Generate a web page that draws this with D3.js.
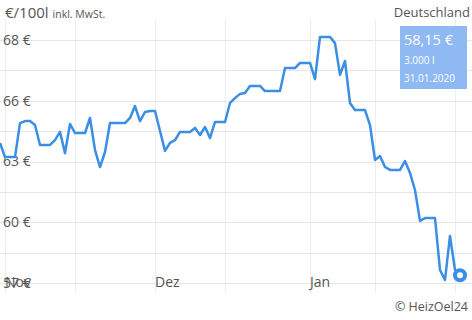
<!DOCTYPE html>
<html>
<head>
<meta charset="utf-8">
<script src="https://cdn.jsdelivr.net/npm/d3@7"></script>
<style>
	body { margin: 0; background: #fff; }
	text { font-family: "Open Sans", "DejaVu Sans", sans-serif; }
</style>
</head>
<body>
<div id="mainWrapper"><svg width="472" height="320"></svg></div>
<script>

	// Heizölpreis pro 100 l, täglich ab 31.10.2019
	var startDay = "2019-10-31";
	var prices = [
		64.14, 63.50, 63.50, 63.50, 65.04, 65.13, 65.13, 64.95, 64.05, 64.05,
		64.05, 64.27, 64.64, 63.68, 65.00, 64.59, 64.59, 64.59, 65.27, 63.82,
		63.05, 63.73, 65.04, 65.04, 65.04, 65.04, 65.27, 65.81, 65.13, 65.54,
		65.59, 65.59, 64.68, 63.78, 64.14, 64.27, 64.64, 64.64, 64.64, 64.82,
		64.50, 64.86, 64.36, 65.09, 65.09, 65.09, 65.95, 66.17, 66.36, 66.40,
		66.72, 66.72, 66.72, 66.49, 66.49, 66.49, 66.49, 67.53, 67.53, 67.53,
		67.76, 67.76, 67.76, 67.03, 68.94, 68.94, 68.94, 68.66, 67.22, 67.85,
		65.95, 65.63, 65.63, 65.63, 64.95, 63.37, 63.55, 63.05, 62.92, 62.92,
		62.92, 63.32, 62.78, 62.01, 60.61, 60.74, 60.74, 60.74, 58.39, 57.94,
		59.93, 58.39, 58.15
	];

	// Achsen
	var yTicks = [57.8, 59.175, 60.55, 61.925, 63.3, 64.675, 66.05, 67.425, 68.8];
	var yLabelTicks = [57.8, 60.55, 63.3, 66.05, 68.8];
	var monthTicks = ["2019-11-01", "2019-12-01", "2020-01-01"];
	var monthLabels = ["Nov", "Dez", "Jan"];
	var midTicks = ["2019-11-15", "2019-12-15", "2020-01-14", "2020-01-30"];
	var amount = 3000;
	var region = "Deutschland";

	var parse = d3.utcParse("%Y-%m-%d");
	var start = parse(startDay);
	var data = prices.map(function(p, i){
		return { date: d3.utcDay.offset(start, i), price: p };
	});

	var svg = d3.select("#mainWrapper>svg");

	var x = d3.scaleUtc()
		.domain([parse("2019-11-01"), parse("2020-01-31")])
		.range([5, 460]);

	var y = d3.scaleLinear()
		.domain([57.8, 68.8])
		.range([283, 40]);

	var de = d3.formatLocale({ decimal: ",", thousands: ".", grouping: [3], currency: ["", " €"] });

	//Gitter
	var grid = svg.append("g").attr("class", "grid");

	grid.selectAll(".vline")
		.data(monthTicks.concat(midTicks).map(parse))
		.enter()
		.append("line")
		.attr("x1", function(d){ return x(d) + 0.5; })
		.attr("x2", function(d){ return x(d) + 0.5; })
		.attr("y1", 20)
		.attr("y2", 293)
		.attr("stroke", "#ededed")
		.attr("stroke-width", 1);

	grid.selectAll(".hline")
		.data(yTicks)
		.enter()
		.append("line")
		.attr("x1", 0)
		.attr("x2", 472)
		.attr("y1", function(d){ return Math.round(y(d)) + 0.5; })
		.attr("y2", function(d){ return Math.round(y(d)) + 0.5; })
		.attr("stroke", "#e6e6e6")
		.attr("stroke-width", 1);

	//Y-Beschriftung
	svg.append("g")
		.selectAll("text")
		.data(yLabelTicks)
		.enter()
		.append("text")
		.attr("x", 3)
		.attr("y", function(d){ return y(d); })
		.attr("dy", ".35em")
		.attr("font-size", "14px")
		.attr("fill", "#555")
		.text(function(d){ return Math.floor(d) + " €"; });

	//X-Beschriftung
	svg.append("g")
		.selectAll("text")
		.data(monthTicks)
		.enter()
		.append("text")
		.attr("x", function(d){ return x(parse(d)); })
		.attr("y", 287)
		.attr("font-size", "14px")
		.attr("fill", "#555")
		.text(function(d, i){ return monthLabels[i]; });

	//Linie
	var line = d3.line()
		.x(function(d){ return x(d.date); })
		.y(function(d){ return y(d.price); });

	svg.append("path")
		.datum(data)
		.attr("d", line)
		.attr("fill", "none")
		.attr("stroke", "#3a8ee4")
		.attr("stroke-width", 2.5)
		.attr("stroke-linejoin", "round");

	var last = data[data.length - 1];

	svg.append("circle")
		.attr("cx", x(last.date))
		.attr("cy", y(last.price))
		.attr("r", 5)
		.attr("fill", "#fff")
		.attr("stroke", "#3a8ee4")
		.attr("stroke-width", 4);

	//Kopfzeile
	var head = svg.append("text")
		.attr("x", 5)
		.attr("y", 18)
		.attr("fill", "#555");
	head.append("tspan").attr("font-size", "15px").text("€/100l");
	head.append("tspan").attr("font-size", "10.5px").attr("dx", 4).text("inkl. MwSt.");

	svg.append("text")
		.attr("x", 470)
		.attr("y", 17)
		.attr("text-anchor", "end")
		.attr("font-size", "13px")
		.attr("fill", "#555")
		.text(region);

	//Tooltip
	var tip = svg.append("g").attr("transform", "translate(400,26)");
	tip.append("rect")
		.attr("width", 67)
		.attr("height", 63)
		.attr("fill", "#8fb9f2");
	tip.append("text")
		.attr("x", 4)
		.attr("y", 19)
		.attr("font-size", "14.5px")
		.attr("fill", "#fff")
		.text(de.format("$.2f")(last.price));
	tip.append("text")
		.attr("x", 4)
		.attr("y", 38)
		.attr("font-size", "10px")
		.attr("fill", "#fff")
		.text(de.format(",")(amount) + " l");
	tip.append("text")
		.attr("x", 4)
		.attr("y", 56)
		.attr("font-size", "10px")
		.attr("fill", "#fff")
		.text(d3.utcFormat("%d.%m.%Y")(last.date));

	svg.append("text")
		.attr("x", 468)
		.attr("y", 311)
		.attr("text-anchor", "end")
		.attr("font-size", "12.5px")
		.attr("fill", "#555")
		.text("© HeizOel24");

</script>
</body>
</html>
